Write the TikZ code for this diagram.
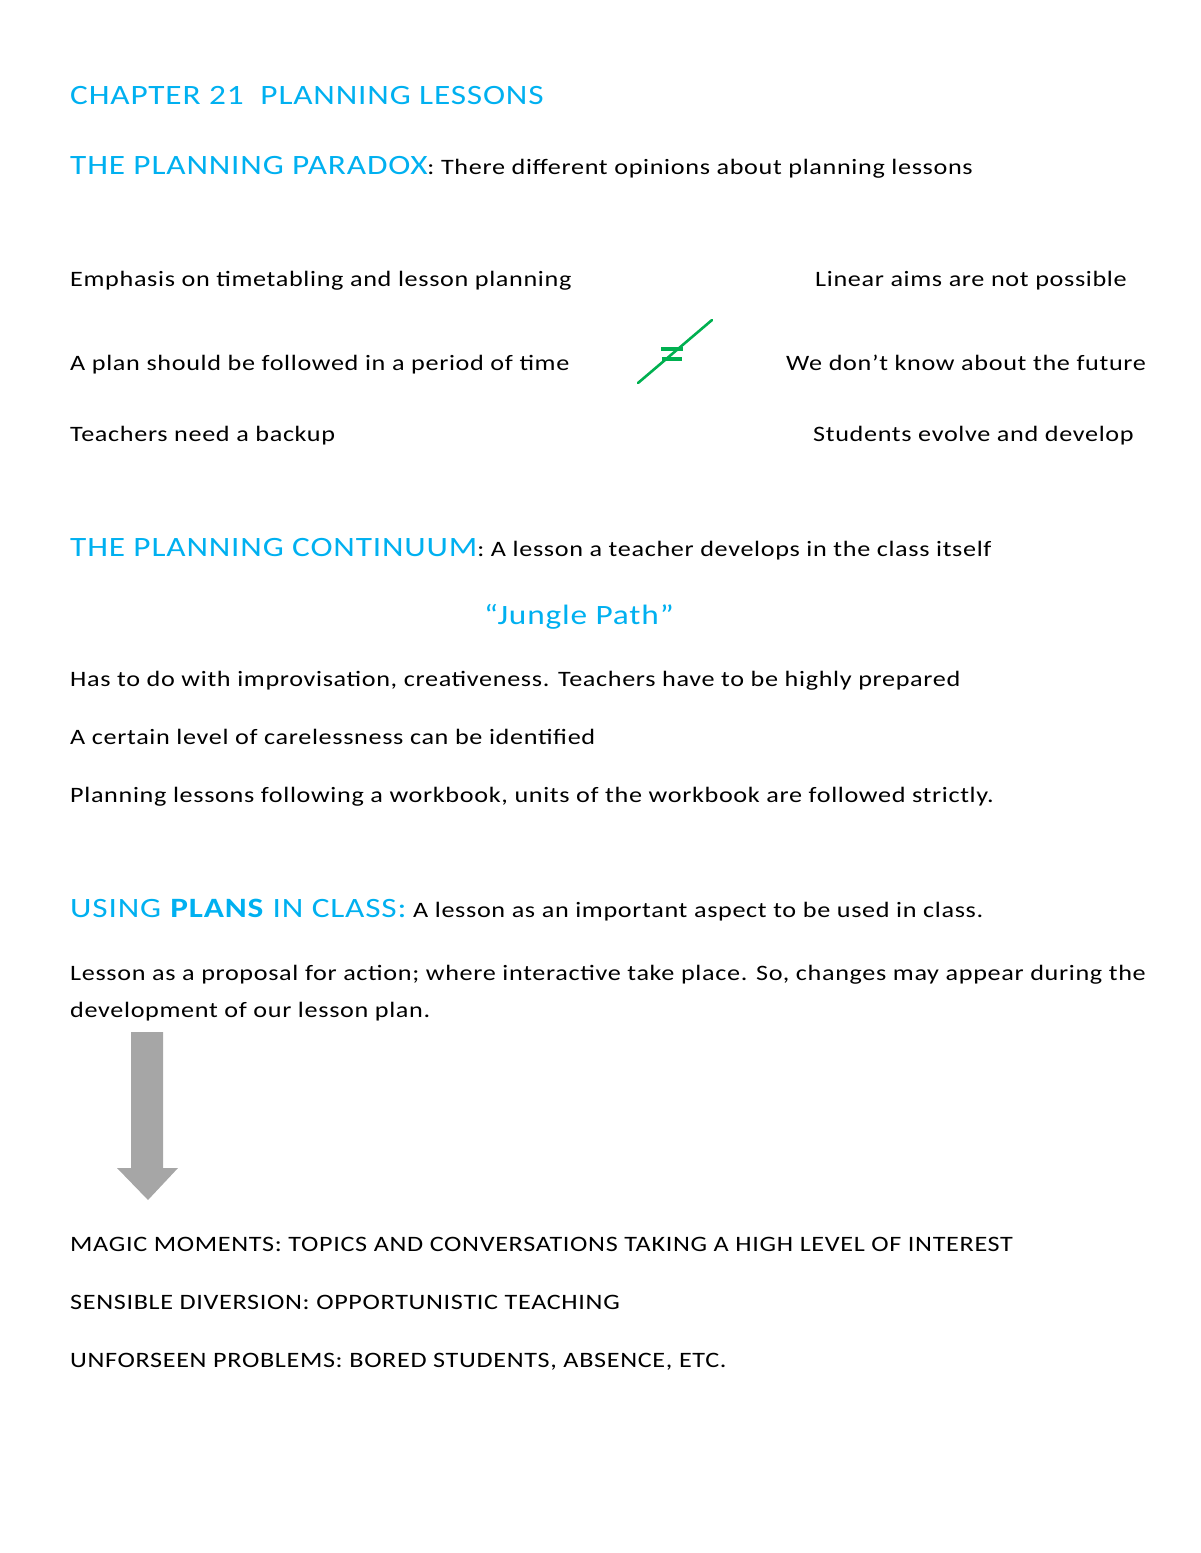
\documentclass[tikz,border=0pt]{standalone}
\usepackage{fontspec}
\setmainfont{Carlito}[FakeStretch=1.19,LetterSpace=3]
\definecolor{hblue}{RGB}{0,176,240}
\definecolor{zgreen}{RGB}{0,176,80}
\begin{document}
\begin{tikzpicture}[x=1pt,y=-1pt,
  body/.style={anchor=base west,inner sep=0pt,font=\fontsize{22}{26}\selectfont},
  head/.style={anchor=base west,inner sep=0pt,font=\fontsize{28}{33}\selectfont,text=hblue}]
\useasboundingbox (0,0) rectangle (1200,1553);
\node[head] (t) at (70,104) {CHAPTER 21\ \ PLANNING LESSONS};
\node[head] (p) at (70,174) {THE PLANNING PARADOX\textcolor{black}{\fontsize{22}{26}\selectfont: There different opinions about planning lessons}};
\node[body] (l1) at (70,286) {Emphasis on timetabling and lesson planning};
\node[body] (l2) at (70,370) {A plan should be followed in a period of time};
\node[body] (l3) at (70,441) {Teachers need a backup};
\node[body] (r1) at (815,286) {Linear aims are not possible};
\node[body] (r2) at (786,370) {We don’t know about the future};
\node[body] (r3) at (813,441) {Students evolve and develop};
\draw[zgreen,line width=2.6pt,line cap=round] (638,383) -- (712,320);
\draw[zgreen,line width=3.5pt] (661,349) -- (683,349) (662,359) -- (682,359);
\node[head] (c) at (70,556) {THE PLANNING CONTINUUM\textcolor{black}{\fontsize{22}{26}\selectfont: A lesson a teacher develops in the class itself}};
\node[head,anchor=base] (j) at (579,624) {“Jungle Path”};
\node[body] (a1) at (70,686) {Has to do with improvisation, creativeness. Teachers have to be highly prepared};
\node[body] (a2) at (70,744) {A certain level of carelessness can be identified};
\node[body] (a3) at (70,802) {Planning lessons following a workbook, units of the workbook are followed strictly.};
\node[head] (u) at (70,917) {USING \textbf{PLANS} IN CLASS:\textcolor{black}{\fontsize{22}{26}\selectfont\ A lesson as an important aspect to be used in class.}};
\node[body] (b1) at (70,980) {Lesson as a proposal for action; where interactive take place. So, changes may appear during the};
\node[body] (b2) at (70,1017) {development of our lesson plan.};
\fill[black!35] (131,1032) -- (163,1032) -- (163,1168) -- (178,1168) -- (148,1200) -- (117,1168) -- (131,1168) -- cycle;
\node[body] (m1) at (70,1251) {MAGIC MOMENTS: TOPICS AND CONVERSATIONS TAKING A HIGH LEVEL OF INTEREST};
\node[body] (m2) at (70,1309) {SENSIBLE DIVERSION: OPPORTUNISTIC TEACHING};
\node[body] (m3) at (70,1367) {UNFORSEEN PROBLEMS: BORED STUDENTS, ABSENCE, ETC.};
\end{tikzpicture}
\end{document}
